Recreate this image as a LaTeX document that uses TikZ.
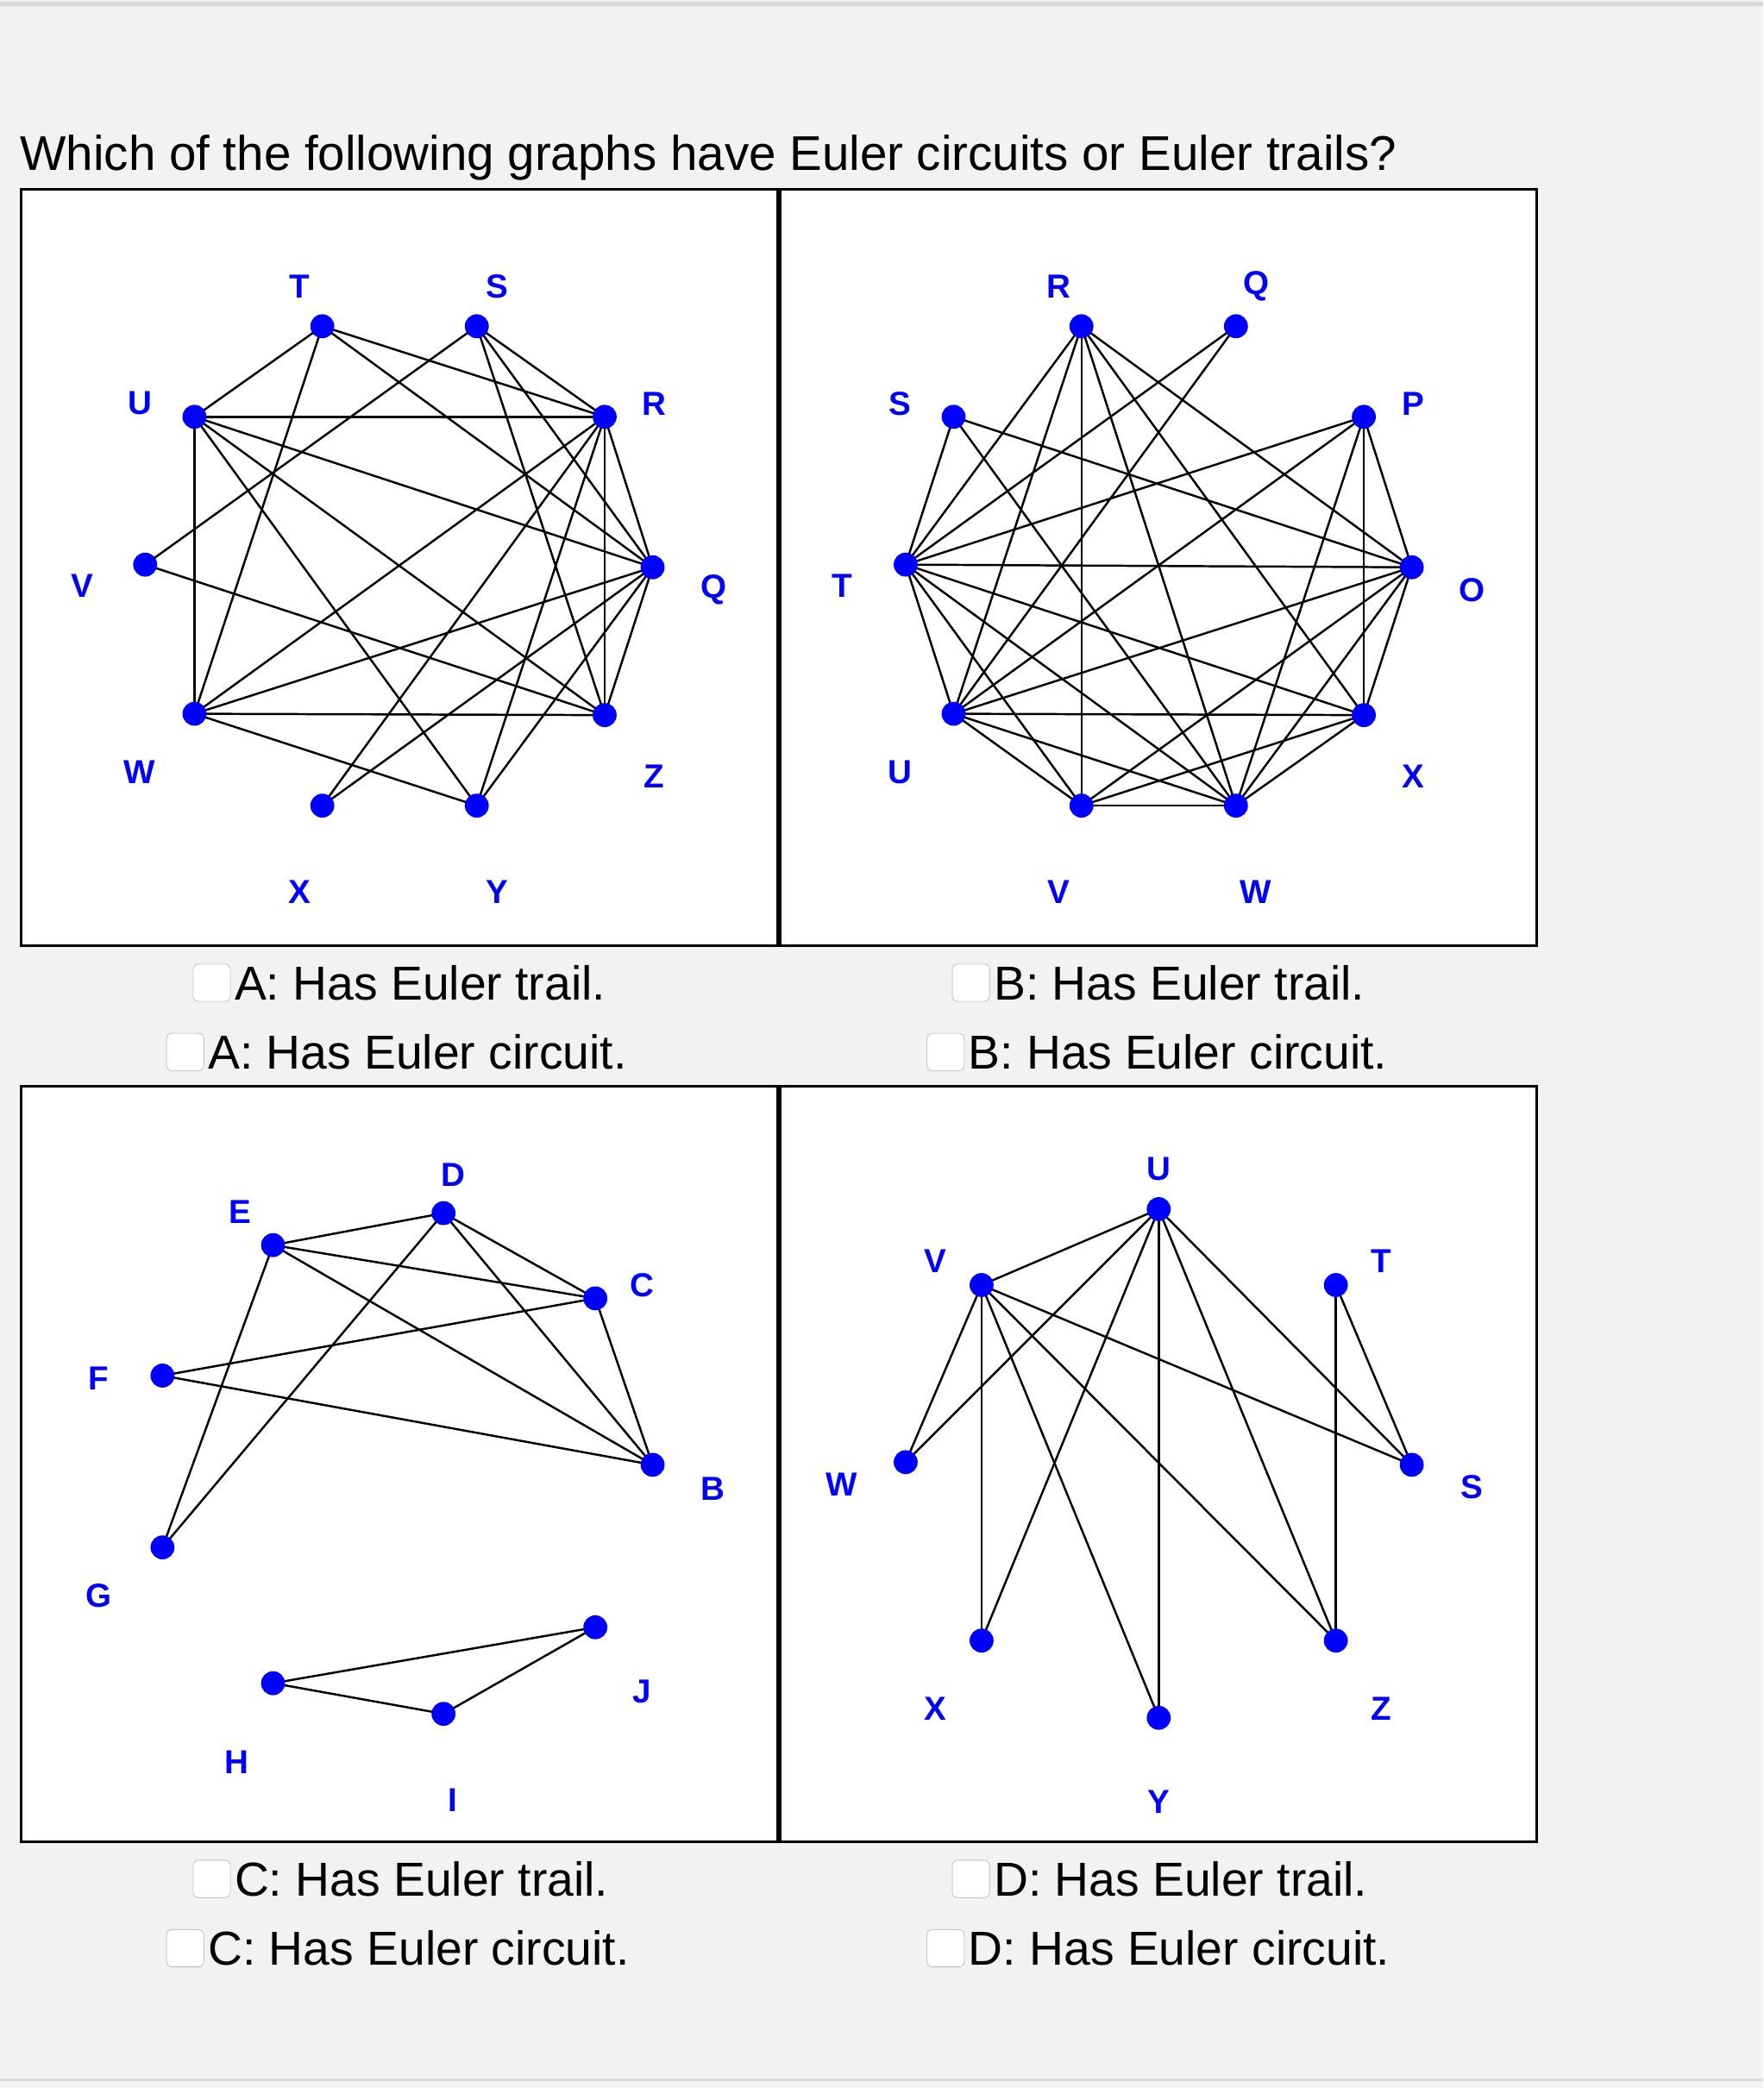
\documentclass[tikz,border=0pt]{standalone}
\usepackage{fontspec}
\setmainfont{Liberation Sans}
\begin{document}
\begin{tikzpicture}[x=1pt,y=-1pt,
  dot/.style={circle,fill=blue,inner sep=0pt,minimum size=18pt},
  lbl/.style={text=blue,font=\fontsize{25}{25}\selectfont\bfseries,inner sep=0pt},
  edge/.style={draw=black,line width=1.6pt},
  panel/.style={draw=black,line width=2pt,fill=white},
  cbox/.style={draw=black!30,fill=white,rounded corners=4pt,minimum size=28pt,inner sep=0pt},
  opt/.style={anchor=west,inner sep=0pt,font=\fontsize{35.8}{36}\selectfont},
]
\useasboundingbox (0,0) rectangle (1324,1568);
\fill[black!5] (0,0) rectangle (1324,1568);
\draw[black!15,line width=3pt] (0,3) -- (1324,3);
\draw[black!15,line width=2pt] (0,1562) -- (1324,1562);
\node[anchor=base west,inner sep=0pt,font=\fontsize{36.6}{37}\selectfont] (title) at (15,128) {Which of the following graphs have Euler circuits or Euler trails?};
\draw[panel] (16,142) rectangle (584,710);
\draw[panel] (586,142) rectangle (1154,710);
\draw[panel] (16,816) rectangle (584,1383);
\draw[panel] (586,816) rectangle (1154,1383);

% ---------- Graph A ----------
\foreach \n/\x/\y/\lx/\ly in {T/242/245/225/215, S/358/245/373/215, U/146/313/105/303, R/454/313/491/303, V/109/424/62/440, Q/490/426/536/443, W/146/536/105/580, Z/454/537/491/583, X/242/605/225/670, Y/358/605/373/670}{
  \coordinate (a\n) at (\x,\y);
  \node[lbl] (a\n l) at (\lx,\ly) {\n};
}
\foreach \a/\b in {T/U,T/W,T/R,T/Q,U/R,U/W,U/Q,U/Z,U/Y,V/S,V/Z,S/R,S/Q,S/Z,R/Z,R/Q,R/W,R/X,R/Y,Q/W,Q/X,Q/Y,Q/Z,W/Z,W/Y}
  \draw[edge] (a\a) -- (a\b);
\foreach \n in {T,S,U,R,V,Q,W,Z,X,Y} \node[dot] (a\n d) at (a\n) {};

% ---------- Graph B ----------
\foreach \n/\x/\y/\lx/\ly in {R/812/245/795/215, Q/928/245/943/215, S/716/313/676/303, P/1024/313/1061/303, T/680/424/632/440, O/1060/426/1105/443, U/716/536/676/580, X/1024/537/1061/583, V/812/605/795/670, W/928/605/943/670}{
  \coordinate (b\n) at (\x,\y);
  \node[lbl] (b\n l) at (\lx,\ly) {\n};
}
\foreach \a/\b in {R/T,R/U,R/V,R/W,R/X,R/O,S/T,S/O,S/W,T/Q,T/P,T/O,T/U,T/V,T/W,T/X,Q/U,P/O,P/X,P/U,P/W,O/X,O/W,O/V,O/U,U/X,U/V,U/W,V/W,V/X,X/W}
  \draw[edge] (b\a) -- (b\b);
\foreach \n in {R,Q,S,P,T,O,U,X,V,W} \node[dot] (b\n d) at (b\n) {};

% ---------- Graph C ----------
\foreach \n/\x/\y/\lx/\ly in {E/205/935/180/910, D/333/911/340/882, C/447/975/482/965, F/122/1033/74/1035, B/490/1100/535/1118, G/122/1162/74/1198, J/447/1222/482/1270, H/205/1264/178/1323, I/333/1287/340/1352}{
  \coordinate (c\n) at (\x,\y);
  \node[lbl] (c\n l) at (\lx,\ly) {\n};
}
\foreach \a/\b in {E/D,E/C,E/B,E/G,D/C,D/B,D/G,F/C,F/B,C/B,H/J,H/I,I/J}
  \draw[edge] (c\a) -- (c\b);
\foreach \n in {E,D,C,F,B,G,J,H,I} \node[dot] (c\n d) at (c\n) {};

% ---------- Graph D ----------
\foreach \n/\x/\y/\lx/\ly in {U/870/908/870/878, V/737/965/702/947, T/1003/965/1037/947, W/680/1098/632/1115, S/1060/1100/1105/1117, X/737/1232/702/1283, Z/1003/1232/1037/1283, Y/870/1290/870/1353}{
  \coordinate (d\n) at (\x,\y);
  \node[lbl] (d\n l) at (\lx,\ly) {\n};
}
\foreach \a/\b in {U/V,U/W,U/X,U/Y,U/Z,U/S,V/W,V/X,V/Y,V/Z,V/S,T/Z,T/S}
  \draw[edge] (d\a) -- (d\b);
\foreach \n in {U,V,T,W,S,X,Z,Y} \node[dot] (d\n d) at (d\n) {};

% ---------- options ----------
\node[cbox] (k1) at (159,738) {}; \node[opt] (o1) at (176,738) {A: Has Euler trail.};
\node[cbox] (k2) at (139,790) {}; \node[opt] (o2) at (156,790) {A: Has Euler circuit.};
\node[cbox] (k3) at (729,738) {}; \node[opt] (o3) at (746,738) {B: Has Euler trail.};
\node[cbox] (k4) at (710,790) {}; \node[opt] (o4) at (727,790) {B: Has Euler circuit.};
\node[cbox] (k5) at (159,1411) {}; \node[opt] (o5) at (176,1411) {C: Has Euler trail.};
\node[cbox] (k6) at (139,1463) {}; \node[opt] (o6) at (156,1463) {C: Has Euler circuit.};
\node[cbox] (k7) at (729,1411) {}; \node[opt] (o7) at (746,1411) {D: Has Euler trail.};
\node[cbox] (k8) at (710,1463) {}; \node[opt] (o8) at (727,1463) {D: Has Euler circuit.};
\end{tikzpicture}
\end{document}
